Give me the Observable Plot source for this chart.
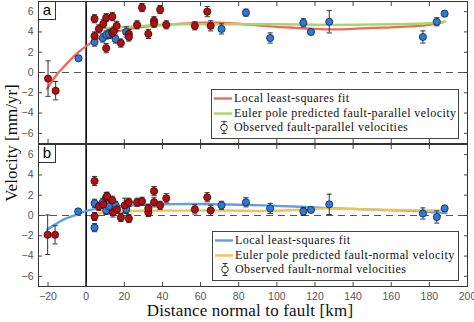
<!DOCTYPE html>
<html><head><meta charset="utf-8">
<script src="https://cdn.jsdelivr.net/npm/d3@7"></script>
<script src="https://cdn.jsdelivr.net/npm/@observablehq/plot@0.6"></script>
<style>
body{margin:0;background:#fff;}
#wrap{position:relative;width:474px;height:322px;overflow:hidden;background:#fff;}
.pl{position:absolute;left:0;}
.serif{font-family:"Liberation Serif","DejaVu Serif",serif;color:#111;}
.lab{position:absolute;background:#fff;border:1px solid #333;font-family:"Liberation Sans",sans-serif;font-size:15px;line-height:16px;text-align:center;width:16px;height:17px;}
.leg{position:absolute;background:#fff;border:1px solid #444;}
.leg .row{position:absolute;left:0;height:15px;font-family:"Liberation Serif","Times New Roman",serif;font-size:12px;letter-spacing:0.42px;line-height:15px;white-space:nowrap;color:#111;}
.leg svg{position:absolute;left:0;top:0;}
.leg .t{position:absolute;left:22px;top:0;}
</style>
</head><body>
<div id="wrap"></div>
<script>
// ---- data ----
const xTicks = [-20,0,20,40,60,80,100,120,140,160,180,200];
const yTicks = [-6,-4,-2,0,2,4,6];
// [distance km, velocity mm/yr, error]
const parRed = [[-20,-0.6,1.75],[-16,-1.8,0.9],[4.4,5.3,0.4],[4.4,3.6,0.4],[6.7,4.3,0.4],[9,4.8,0.4],[10.5,5.4,0.4],[10.5,2.4,0.45],[13.7,5.5,0.4],[13.7,3.9,0.45],[14.5,4.1,0.4],[16,4.6,0.45],[18.2,2.9,0.4],[22.4,3.8,0.45],[22.4,3.5,0.4],[26.7,4.7,0.4],[29.3,6.4,0.4],[32.6,3.8,0.45],[35.6,5.1,0.4],[35.6,4.85,0.4],[38.8,6.2,0.4],[42,4.7,0.4],[57,4.6,0.4],[63.5,6.0,0.5],[65.3,4.6,0.5]];
const parBlue = [[-4,1.4,0.2],[4.4,3.0,0.4],[8.7,3.4,0.4],[10.5,3.7,0.4],[12,3.8,0.45],[15.4,3.3,0.4],[21,4.0,0.5],[71,4.3,0.5],[83.8,5.9,0.35],[96.5,3.4,0.5],[113.9,4.9,0.4],[117.9,4.0,0.2],[127.5,5.0,1.1],[176.6,3.5,0.6],[183.9,5.0,0.4],[188,5.8,0.25]];
const norRed = [[-20.2,-1.9,1.95],[-16.3,-1.9,0.9],[4.4,3.4,0.45],[4.4,-0.1,0.4],[6.7,0.9,0.4],[9,1.1,0.4],[10.5,1.8,0.45],[11,1.9,0.4],[13.7,1.5,0.4],[14,0.3,0.45],[16.2,0.6,0.4],[18.2,-0.2,0.4],[20.2,1.0,0.7],[22.4,1.3,0.4],[22.4,-0.3,0.4],[26.7,1.3,0.4],[29.3,1.4,0.4],[32.6,0.3,0.4],[32.6,0.7,0.4],[35.6,2.4,0.45],[35.6,1.3,0.45],[38.8,1.0,0.4],[42,1.7,0.45],[57,0.6,0.45],[63.5,1.8,0.45],[65.3,0.5,0.5]];
const norBlue = [[-4.2,0.4,0.15],[4.4,1.2,0.4],[4.4,-1.2,0.4],[8.7,1.3,0.4],[10.5,0.5,0.4],[12,0.9,0.45],[15.4,1.0,0.4],[21,1.0,0.5],[21,0.6,0.4],[71,1.0,0.4],[83.8,1.3,0.45],[96.5,0.7,0.5],[113.9,0.4,0.4],[117.9,0.55,0.2],[127.5,1.1,1.0],[176.6,0.2,0.55],[183.9,-0.15,0.6],[188,0.7,0.25]];
// fits
const fitParX = [-20.5,-18,-15,-12,-8,-4,0,5,10,20,30,40,50,60,70,80,90,100,110,120,130,140,150,160,170,180,188];
const fitParY = [-1.6,-0.9,-0.1,0.5,1.3,2.0,2.6,3.2,3.7,4.2,4.5,4.7,4.8,4.9,4.9,4.8,4.65,4.5,4.4,4.3,4.25,4.3,4.4,4.45,4.55,4.7,5.0];
const eulerParX = [5,12,20,30,45,60,80,100,130,160,180,188];
const eulerParY = [4.3,4.4,4.5,4.6,4.75,4.75,4.75,4.75,4.7,4.75,4.85,5.0];
const fitNorX = [-20.5,-16,-12,-8,-5,-2,0,5,10,20,30,45,60,75,100,127,150,177,189];
const fitNorY = [-1.4,-0.85,-0.4,-0.1,0.07,0.3,0.45,0.65,0.8,0.95,1.05,1.12,1.13,1.08,0.95,0.73,0.58,0.4,0.23];
const eulerNorX = [5,12,20,30,50,75,96,110,127,150,177,189];
const eulerNorY = [0.2,0.3,0.4,0.47,0.48,0.5,0.45,0.55,0.7,0.6,0.5,0.5];

const C = {redDot:"#b50f12", redEdge:"#3a0708", blueDot:"#2f78d6", blueEdge:"#0f2550",
  fitPar:"#f06a5a", eulerPar:"#a6d864", fitNor:"#5e9ee8", eulerNor:"#f3c154"};

const cap = {draw(ctx, size){ const r = Math.sqrt(size/Math.PI); ctx.moveTo(-r,0); ctx.lineTo(r,0);} };
const toObj = a => a.map(([x,y,e]) => ({x,y,e}));
const line = (xs, ys) => xs.map((x,i)=>({x, y: ys[i]}));

function panel(red, blue, fx, fy, ex, ey, cFit, cEul, opts){
  const R = toObj(red), B = toObj(blue);
  const all = B.concat(R);
  const ax = {tickSize:-4, label:null, fontSize:10.5, fill:"#555"};
  return Plot.plot({
    width:474, height:opts.height, marginLeft:38, marginRight:7, marginTop:opts.mt, marginBottom:opts.mb,
    x:{domain:[-25,200]}, y:{domain:[-7,7]},
    style:{fontFamily:"Liberation Sans, Arial, sans-serif", background:"transparent", color:"#444"},
    marks:[
      Plot.ruleY([0], {stroke:"#555", strokeWidth:1.2, strokeDasharray:"7,5"}),
      Plot.ruleX([0], {stroke:"#000", strokeWidth:1.6}),
      Plot.line(line(fx, fy), {x:"x", y:"y", stroke:cFit, strokeWidth:2.4, curve:"catmull-rom"}),
      Plot.line(line(ex, ey), {x:"x", y:"y", stroke:cEul, strokeWidth:2.4, curve:"catmull-rom"}),
      Plot.ruleX(all, {x:"x", y1:d=>d.y-d.e, y2:d=>d.y+d.e, stroke:"#333", strokeWidth:1}),
      Plot.dot(all, {x:"x", y:d=>d.y-d.e, symbol:cap, r:2.6, stroke:"#333", strokeWidth:1}),
      Plot.dot(all, {x:"x", y:d=>d.y+d.e, symbol:cap, r:2.6, stroke:"#333", strokeWidth:1}),
      Plot.dot(B, {x:"x", y:"y", r:3.6, fill:C.blueDot, stroke:C.blueEdge, strokeWidth:0.8}),
      Plot.dot(R, {x:"x", y:"y", r:3.6, fill:C.redDot, stroke:C.redEdge, strokeWidth:0.8}),
      Plot.frame({stroke:"#333", strokeWidth:1}),
      Plot.axisY({...ax, ticks:yTicks, tickPadding:9}),
      Plot.axisY({...ax, anchor:"right", ticks:yTicks, tickFormat:()=>""}),
      Plot.axisX({...ax, anchor:"top", ticks:xTicks, tickFormat:()=>""}),
      opts.xlabels
        ? Plot.axisX({...ax, anchor:"bottom", ticks:xTicks, tickPadding:10})
        : Plot.axisX({...ax, anchor:"bottom", ticks:xTicks, tickFormat:()=>""})
    ]
  });
}

const wrap = document.getElementById("wrap");
const pa = panel(parRed, parBlue, fitParX, fitParY, eulerParX, eulerParY, C.fitPar, C.eulerPar, {height:144, mt:1, mb:1, xlabels:false});
const pb = panel(norRed, norBlue, fitNorX, fitNorY, eulerNorX, eulerNorY, C.fitNor, C.eulerNor, {height:179, mt:1, mb:36, xlabels:true});
pa.classList.add("pl"); pa.style.top = "0px";
pb.classList.add("pl"); pb.style.top = "143px";
wrap.appendChild(pb); wrap.appendChild(pa);

function addDiv(html, css, cls){ const d=document.createElement("div"); if(cls) d.className=cls; d.innerHTML=html; Object.assign(d.style, css); wrap.appendChild(d); return d; }

// panel labels
addDiv("a", {left:"38px", top:"1px"}, "lab");
addDiv("b", {left:"38px", top:"144px"}, "lab");

// axis titles
addDiv("Velocity [mm/yr]", {position:"absolute", left:"12px", top:"143px", transform:"translate(-50%,-50%) rotate(-90deg)", fontSize:"17px", whiteSpace:"nowrap"}, "serif");
addDiv("Distance normal to fault [km]", {position:"absolute", left:"250px", top:"301px", transform:"translateX(-50%)", fontSize:"17px", letterSpacing:"0.15px", whiteSpace:"nowrap", lineHeight:"19px"}, "serif");

// legends
function legend(left, top, w, h, items){
  const box = addDiv("", {left:left+"px", top:top+"px", width:w+"px", height:h+"px"}, "leg");
  items.forEach((it, i) => {
    const row = document.createElement("div");
    row.className = "row";
    row.style.top = (1 + i*14.7) + "px";
    row.style.width = w + "px";
    let sym;
    if (it.type === "line") sym = `<svg width="22" height="15"><line x1="2" x2="20" y1="7.5" y2="7.5" stroke="${it.color}" stroke-width="2.4"/></svg>`;
    else sym = `<svg width="22" height="15"><line x1="12" x2="12" y1="1.5" y2="13.5" stroke="#333"/><line x1="9.5" x2="14.5" y1="1.5" y2="1.5" stroke="#333"/><line x1="9.5" x2="14.5" y1="13.5" y2="13.5" stroke="#333"/><circle cx="12" cy="7.5" r="3.3" fill="#fff" stroke="#333"/></svg>`;
    row.innerHTML = sym + `<span class="t">${it.text}</span>`;
    box.appendChild(row);
  });
}
legend(211, 89, 246, 48, [
  {type:"line", color:C.fitPar, text:"Local least-squares fit"},
  {type:"line", color:C.eulerPar, text:"Euler pole predicted fault-parallel velocity"},
  {type:"obs", text:"Observed fault-parallel velocities"}
]);
legend(212, 231, 245, 48, [
  {type:"line", color:C.fitNor, text:"Local least-squares fit"},
  {type:"line", color:C.eulerNor, text:"Euler pole predicted fault-normal velocity"},
  {type:"obs", text:"Observed fault-normal velocities"}
]);
</script>
</body></html>
